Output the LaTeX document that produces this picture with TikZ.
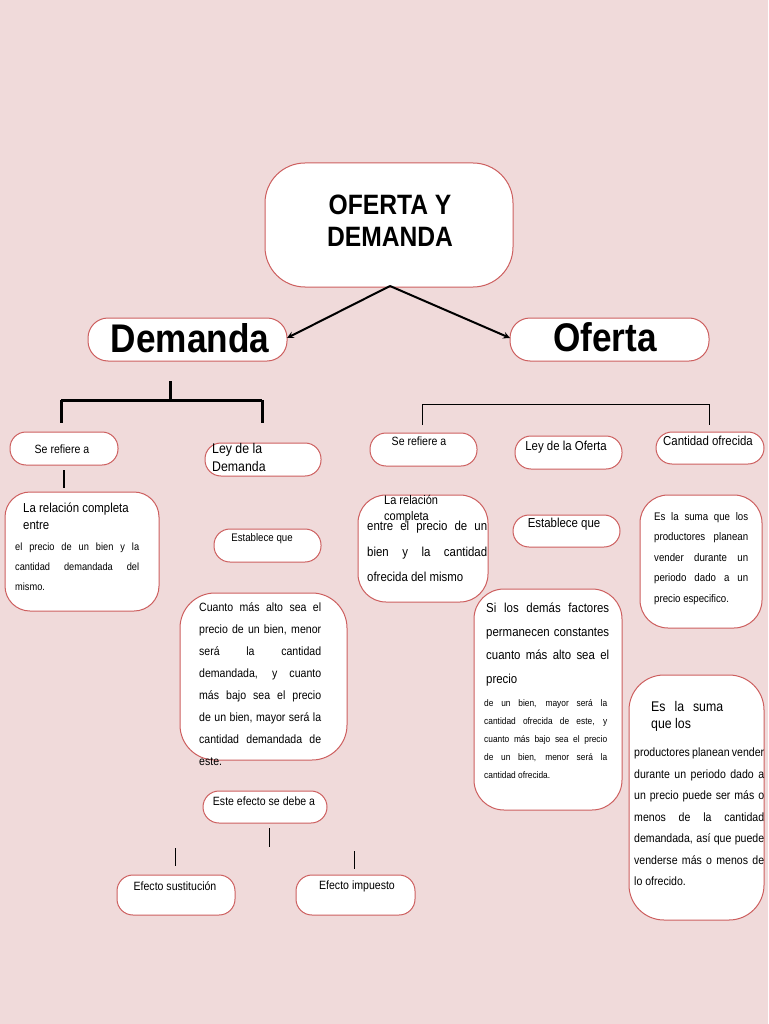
\documentclass[tikz,border=0pt]{standalone}
\usepackage{fontspec}
\setmainfont[FakeStretch=0.88]{Liberation Sans}
\definecolor{bg}{RGB}{240,218,218}
\definecolor{bd}{RGB}{205,95,95}
\newcommand{\fs}[2]{\fontsize{#1}{#2}\selectfont}
\newcommand{\jl}[2]{\makebox[#1][s]{#2}}
\begin{document}
\begin{tikzpicture}[x=1pt,y=-1pt,
 bx/.style={draw=bd,fill=white,line width=1pt,rounded corners=#1},
 bx/.default=16pt,
 tx/.style={inner sep=0pt,align=left},
 conn/.style={line width=2pt},
 thin/.style={line width=1pt}]
\useasboundingbox[fill=bg] (0,0) rectangle (768,1024);
% boxes
\draw[bx=40pt] (265,163) rectangle (513,287);
\node[tx,align=center,font=\fs{28}{32}\bfseries] (t) at (390,221) {OFERTA Y\\DEMANDA};
\draw[bx=20pt] (88,318) rectangle (287,361);
\node[tx,font=\fs{40}{40}\bfseries] (dem) at (190,338) {Demanda};
\draw[bx=20pt] (510,318) rectangle (709,361);
\node[tx,font=\fs{40}{40}\bfseries] (ofe) at (605,337) {Oferta};
\coordinate (top) at (390,286);
\coordinate (dR) at (287,338);
\coordinate (oL) at (510,338);
\draw[conn,-stealth] (top) -- (dR);
\draw[conn,-stealth] (top) -- (oL);
% left bracket
\coordinate (b1) at (170,381); \coordinate (b2) at (170,400);
\coordinate (b3) at (61,400); \coordinate (b4) at (262,400);
\coordinate (b5) at (61,423); \coordinate (b6) at (262,423);
\draw[line width=3pt] (b1)--(b2) (b3)--(b4) (b3)--(b5) (b4)--(b6);
% right bracket
\coordinate (r1) at (422,425); \coordinate (r2) at (422,404);
\coordinate (r3) at (709,404); \coordinate (r4) at (709,425);
\draw[thin] (r1)--(r2)--(r3)--(r4);
% left column
\draw[bx=16pt] (10,432) rectangle (118,465);
\node[tx,font=\fs{12}{14}] (sr1) at (62,449) {Se refiere a};
\coordinate (l1) at (64,470); \coordinate (l2) at (64,488);
\draw[line width=2.5pt] (l1)--(l2);
\draw[bx=16pt] (205,443) rectangle (321,476);
\node[tx,anchor=west,font=\fs{14}{18}] (ley1) at (212,457) {Ley de la\\Demanda};
\draw[bx=25pt] (5,492) rectangle (159,611);
\node[tx,anchor=north west,font=\fs{13}{17}] (rel1) at (23,503) {La relación completa\\entre};
\node[tx,anchor=north west,font=\fs{10.5}{20}] (rel1b) at (15,543) {\jl{124pt}{el precio de un bien y la}\\\jl{124pt}{cantidad demandada del}\\mismo.};
\draw[bx=16pt] (214,529) rectangle (321,562);
\node[tx,font=\fs{11}{13}] (est1) at (262,539) {Establece que};
\draw[bx=35pt] (180,593) rectangle (347,760);
\node[tx,anchor=north west,font=\fs{12}{22}] (cua) at (199,602) {\jl{122pt}{Cuanto más alto sea el}\\\jl{122pt}{precio de un bien, menor}\\\jl{122pt}{será la cantidad}\\\jl{122pt}{demandada, y cuanto}\\\jl{122pt}{más bajo sea el precio}\\\jl{122pt}{de un bien, mayor será la}\\\jl{122pt}{cantidad demandada de}\\este.};
\draw[bx=16pt] (203,791) rectangle (327,823);
\node[tx,font=\fs{12}{14}] (efe) at (264,801) {Este efecto se debe a};
\coordinate (e1) at (269,828); \coordinate (e2) at (269,847);
\coordinate (e3) at (175,848); \coordinate (e4) at (175,866);
\coordinate (e5) at (354,851); \coordinate (e6) at (354,869);
\draw[thin] (e1)--(e2) (e3)--(e4) (e5)--(e6);
\draw[bx=16pt] (117,875) rectangle (235,915);
\node[tx,font=\fs{12}{14}] (sus) at (175,886) {Efecto sustitución};
\draw[bx=16pt] (296,875) rectangle (415,915);
\node[tx,font=\fs{12}{14}] (imp) at (357,886) {Efecto impuesto};
% right side
\draw[bx=16pt] (370,433) rectangle (477,466);
\node[tx,font=\fs{12}{14}] (sr2) at (419,441) {Se refiere a};
\draw[bx=16pt] (515,436) rectangle (622,469);
\node[tx,font=\fs{13}{15}] (ley2) at (566,447) {Ley de la Oferta};
\draw[bx=16pt] (656,432) rectangle (764,464);
\node[tx,font=\fs{13}{15}] (can) at (708,441) {Cantidad ofrecida};
\draw[bx=28pt] (358,495) rectangle (488,602);
\node[tx,anchor=north west,font=\fs{12.5}{16}] (rel2) at (384,495) {La relación\\completa};
\node[tx,anchor=north west,font=\fs{13}{25.5}] (rel2b) at (367,521) {\jl{120pt}{entre el precio de un}\\\jl{120pt}{bien y la cantidad}\\ofrecida del mismo};
\draw[bx=16pt] (513,515) rectangle (620,547);
\node[tx,font=\fs{13}{15}] (est2) at (564,524) {Establece que};
\draw[bx=30pt] (474,589) rectangle (622,810);
\node[tx,anchor=north west,font=\fs{13}{23.5}] (si) at (486,603) {\jl{123pt}{Si los demás factores}\\\jl{123pt}{permanecen constantes}\\\jl{123pt}{cuanto más alto sea el}\\precio};
\node[tx,anchor=north west,font=\fs{9.5}{18}] (sib) at (484,699) {\jl{123pt}{de un bien, mayor será la}\\\jl{123pt}{cantidad ofrecida de este, y}\\\jl{123pt}{cuanto más bajo sea el precio}\\\jl{123pt}{de un bien, menor será la}\\cantidad ofrecida.};
\draw[bx=28pt] (640,495) rectangle (762,628);
\node[tx,anchor=north west,font=\fs{11}{20.5}] (es1) at (654,512) {\jl{94pt}{Es la suma que los}\\\jl{94pt}{productores planean}\\\jl{94pt}{vender durante un}\\\jl{94pt}{periodo dado a un}\\precio especifico.};
\draw[bx=35pt] (629,675) rectangle (764,920);
\node[tx,anchor=north west,font=\fs{14}{17}] (es2) at (651,701) {\jl{72pt}{Es la suma}\\que los};
\node[tx,anchor=north west,font=\fs{12}{21.5}] (es2b) at (634,748) {\jl{130pt}{productores planean vender}\\\jl{130pt}{durante un periodo dado a}\\\jl{130pt}{un precio puede ser más o}\\\jl{130pt}{menos de la cantidad}\\\jl{130pt}{demandada, así que puede}\\\jl{130pt}{venderse más o menos de}\\lo ofrecido.};
\end{tikzpicture}
\end{document}
